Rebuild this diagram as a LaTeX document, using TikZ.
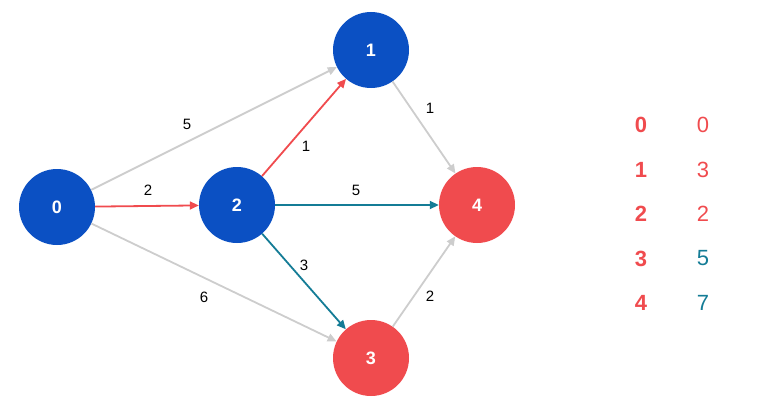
\documentclass[tikz,border=0pt]{standalone}
\usepackage{fontspec}
\setmainfont{Liberation Sans}
\usetikzlibrary{arrows.meta}
\definecolor{nblue}{HTML}{0B50C3}
\definecolor{nred}{HTML}{F04B4E}
\definecolor{nteal}{HTML}{147C96}
\definecolor{ngray}{HTML}{CDCDCD}
\begin{document}
\begin{tikzpicture}[x=1pt,y=-1pt,
  v/.style={circle,minimum size=76pt,inner sep=0pt,text=white,font=\bfseries\fontsize{18}{18}\selectfont},
  e/.style={line width=1.8pt,-{Triangle[length=9pt,width=8pt]}},
  lab/.style={font=\fontsize{15}{15}\selectfont},
  t/.style={font=\fontsize{22}{22}\selectfont}]
\useasboundingbox (0,0) rectangle (760,420);
\node[v,fill=nblue] (n0) at (57,207) {0};
\node[v,fill=nblue] (n2) at (237,205) {2};
\node[v,fill=nblue] (n1) at (371,50) {1};
\node[v,fill=nred] (n4) at (477,205) {4};
\node[v,fill=nred] (n3) at (371,358) {3};
\draw[e,ngray] (n0) -- (n1);
\draw[e,nred] (n0) -- (n2);
\draw[e,ngray] (n0) -- (n3);
\draw[e,nred] (n2) -- (n1);
\draw[e,nteal] (n2) -- (n4);
\draw[e,nteal] (n2) -- (n3);
\draw[e,ngray] (n1) -- (n4);
\draw[e,ngray] (n3) -- (n4);
\node[lab] (l01) at (187,124) {5};
\node[lab] (l02) at (148,190) {2};
\node[lab] (l03) at (204,297) {6};
\node[lab] (l21) at (306,146) {1};
\node[lab] (l24) at (356,190) {5};
\node[lab] (l23) at (304,265) {3};
\node[lab] (l14) at (430,108) {1};
\node[lab] (l34) at (430,296) {2};
\foreach \k/\val/\c [count=\i from 0] in {0/0/nred,1/3/nred,2/2/nred,3/5/nteal,4/7/nteal}{
  \node[t,font=\bfseries\fontsize{22}{22}\selectfont,text=nred] (k\k) at (641,125+44.5*\i) {\k};
  \node[t,text=\c] (w\k) at (703,125+44.5*\i) {\val};
}
\end{tikzpicture}
\end{document}
